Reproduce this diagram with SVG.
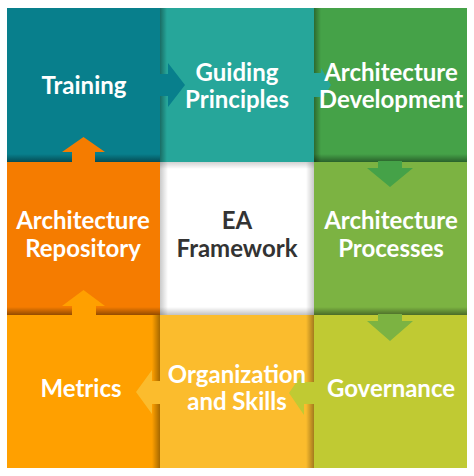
<svg xmlns="http://www.w3.org/2000/svg" width="474" height="476" viewBox="0 0 474 476">
<defs>
<linearGradient id="shR" x1="0" y1="0" x2="1" y2="0"><stop offset="0" stop-color="#000" stop-opacity="0.35"/><stop offset="1" stop-color="#000" stop-opacity="0"/></linearGradient>
<linearGradient id="shL" x1="1" y1="0" x2="0" y2="0"><stop offset="0" stop-color="#000" stop-opacity="0.35"/><stop offset="1" stop-color="#000" stop-opacity="0"/></linearGradient>
<linearGradient id="shU" x1="0" y1="1" x2="0" y2="0"><stop offset="0" stop-color="#000" stop-opacity="0.4"/><stop offset="1" stop-color="#000" stop-opacity="0"/></linearGradient>
<linearGradient id="shD" x1="0" y1="0" x2="0" y2="1"><stop offset="0" stop-color="#000" stop-opacity="0.3"/><stop offset="1" stop-color="#000" stop-opacity="0"/></linearGradient>
</defs>
<style>
.t{font-family:Lato,"Liberation Sans",sans-serif;font-weight:bold;font-size:24px;fill:#fff;text-anchor:middle}
.d{fill:#333}
</style>
<rect width="474" height="476" fill="#fff"/>
<g id="training"><rect x="7" y="8" width="153" height="154" fill="#087f8c"/></g>
<g id="guiding"><rect x="160" y="8" width="154" height="154" fill="#26a69a"/></g>
<g id="archdev"><rect x="314" y="8" width="153" height="154" fill="#45a248"/></g>
<g id="repository"><rect x="7" y="162" width="153" height="153" fill="#f57c00"/></g>
<g id="ea"><rect x="160" y="162" width="154" height="153" fill="#fff"/></g>
<g id="archproc"><rect x="314" y="162" width="153" height="153" fill="#7cb342"/></g>
<g id="metrics"><rect x="7" y="315" width="153" height="153" fill="#ffa000"/></g>
<g id="org"><rect x="160" y="315" width="154" height="153" fill="#fbbc2d"/></g>
<g id="governance"><rect x="314" y="315" width="153" height="153" fill="#c0ca33"/></g>
<g id="shadows">
<rect x="160" y="8" width="7" height="154" fill="url(#shR)"/>
<rect x="314" y="8" width="7" height="154" fill="url(#shR)"/>
<rect x="7" y="154" width="153" height="8" fill="url(#shU)"/>
<rect x="314" y="154" width="153" height="8" fill="url(#shU)"/>
<rect x="160" y="162" width="154" height="7" fill="url(#shD)" opacity="0.6"/>
<rect x="160" y="162" width="8" height="153" fill="url(#shR)" opacity="0.6"/>
<rect x="306" y="162" width="8" height="153" fill="url(#shL)" opacity="0.6"/>
<rect x="160" y="307" width="154" height="8" fill="url(#shU)" opacity="0.6"/>
<rect x="7" y="307" width="153" height="8" fill="url(#shU)"/>
<rect x="314" y="307" width="153" height="8" fill="url(#shU)"/>
<rect x="152" y="315" width="8" height="153" fill="url(#shL)"/>
<rect x="306" y="315" width="8" height="153" fill="url(#shL)"/>
</g>
<g id="connectors">
<path d="M159,74 H168 V63 L185,85 L168,107 V96 H159 Z" fill="#087f8c"/>
<path d="M313,73 H321 V68 L331,85 L321,102 V97 H313 Z" fill="#26a69a"/>
<path d="M378,161 V168 H367 L390,187 L413,168 H402 V161 Z" fill="#45a248"/>
<path d="M378,314 V321 H367 L390,341 L413,321 H402 V314 Z" fill="#7cb342"/>
<path d="M315,382 H304 V371 L289,393 L304,415 V404 H315 Z" fill="#c0ca33"/>
<path d="M161,381 H152 V370 L136,392 L152,414 V404 H161 Z" fill="#fbbc2d"/>
<path d="M72,316 V306 H62 L83.5,290 L105,306 H96 V316 Z" fill="#ffa000"/>
<path d="M72,163 V152 H62 L83.5,137 L105,152 H95 V163 Z" fill="#f57c00"/>
</g>
<g id="labels">
<text class="t" x="84" y="94">Training</text>
<text class="t" x="237" y="81">Guiding</text>
<text class="t" x="237" y="108">Principles</text>
<text class="t" x="391" y="81">Architecture</text>
<text class="t" x="391" y="108">Development</text>
<text class="t" x="83" y="229">Architecture</text>
<text class="t" x="83" y="257">Repository</text>
<text class="t d" x="237" y="229">EA</text>
<text class="t d" x="237" y="257">Framework</text>
<text class="t" x="391" y="229">Architecture</text>
<text class="t" x="391" y="257">Processes</text>
<text class="t" x="81" y="397">Metrics</text>
<text class="t" x="237" y="383">Organization</text>
<text class="t" x="237" y="410">and Skills</text>
<text class="t" x="391" y="397">Governance</text>
</g>
</svg>
